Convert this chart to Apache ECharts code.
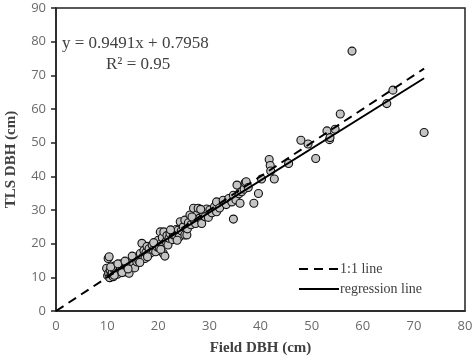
<!DOCTYPE html>
<html><head><meta charset="utf-8">
<script src="https://cdn.jsdelivr.net/npm/echarts@6/dist/echarts.min.js"></script>
<style>html,body{margin:0;padding:0;background:#fff}#c{width:474px;height:361px}</style>
</head><body><div id="c"></div>
<script>
var fieldDBH = [10.2,10.4,9.9,10.1,10.3,10.5,10.6,10.8,11.0,11.2,11.3,11.5,11.7,11.9,12.0,12.2,12.4,12.6,12.8,13.0,13.2,13.4,13.6,13.8,14.0,14.3,14.5,14.7,15.0,15.2,
15.4,15.6,15.8,16.0,16.2,16.5,16.8,17.0,17.2,17.4,17.6,17.8,18.0,18.2,18.5,18.8,19.0,19.3,19.5,19.8,
20.0,20.2,20.4,20.6,20.8,21.0,21.1,21.3,21.5,21.7,21.9,22.1,22.3,22.6,22.8,23.0,23.3,23.5,23.9,24.1,24.3,24.5,24.9,25.2,25.2,
25.6,25.7,25.9,26.2,26.4,26.9,27.0,27.3,27.6,27.8,28.1,28.5,28.8,29.2,29.5,29.8,30.1,
30.5,31.0,31.4,31.4,32.0,32.7,33.3,33.8,34.4,34.7,34.7,35.2,35.4,35.8,36.0,36.3,36.8,37.0,37.2,37.6,38.7,39.6,
40.2,41.7,41.9,42.0,42.7,45.5,47.9,49.3,
50.8,53.0,53.5,53.6,54.6,55.6,57.9,64.7,65.9,72.0,
10.7,11.4,12.1,12.9,13.5,14.1,14.9,16.4,17.9,19.1,20.5,22.4,23.7,26.6,28.3];
var tlsDBH = [15.6,16.1,12.7,10.5,11.2,9.9,12.0,10.8,11.5,10.2,12.6,13.4,11.0,12.2,10.9,13.0,11.8,12.5,14.0,12.1,13.3,11.6,12.8,14.2,13.1,11.2,14.6,13.4,15.2,14.0,
12.8,15.8,14.6,16.2,15.0,17.1,20.1,16.0,18.0,15.6,17.4,19.2,16.8,18.5,17.2,19.6,18.1,20.0,17.6,19.0,
21.0,18.8,23.5,20.2,21.8,17.1,23.5,16.3,20.6,22.4,19.6,21.6,23.0,24.0,21.2,22.6,22.6,24.2,24.0,22.0,26.5,23.8,25.0,22.6,27.0,
22.6,24.4,26.2,28.5,25.6,30.5,27.0,26.0,28.6,30.5,27.6,26.0,29.0,28.0,30.3,27.8,30.0,
29.2,31.0,29.5,32.4,30.6,32.9,31.6,33.4,32.4,34.4,27.3,33.0,37.4,34.8,32.0,35.4,36.2,38.1,38.4,36.7,32.0,34.9,
39.2,45.0,43.2,41.6,39.2,43.8,50.7,49.6,
45.3,53.5,50.9,51.5,54.0,58.5,77.2,61.6,65.6,53.0,
13.1,10.6,14.0,11.4,14.8,12.5,16.3,14.4,16.1,20.3,18.3,24.1,21.0,27.9,30.2];
var slope = 0.9491, intercept = 0.7958;
var regRange = [10, 72];
var oneToOneRange = [0, 72];

var pts = fieldDBH.map(function(x,i){return [x, tlsDBH[i]];});
var reg = regRange.map(function(x){return [x, slope*x+intercept];});
var one = oneToOneRange.map(function(x){return [x, x];});

var chart = echarts.init(document.getElementById('c'));
var serif = '"Liberation Serif", "DejaVu Serif", serif';
var sans = '"Open Sans", sans-serif';
chart.setOption({
  animation:false,
  grid:{left:56,right:9,top:8,bottom:50,show:true,borderColor:'#222',borderWidth:1.5,
    containLabel:false,outerBoundsMode:'none'},
  xAxis:{type:'value',min:0,max:80,interval:10,
    name:'Field DBH (cm)',nameLocation:'middle',nameGap:30,
    nameTextStyle:{fontFamily:serif,fontWeight:'bold',fontSize:15,color:'#404040'},
    axisLine:{lineStyle:{color:'#222',width:1.5}},axisTick:{show:false},
    axisLabel:{color:'#6a6a6a',fontFamily:sans,fontSize:13,margin:9},
    splitLine:{show:false}},
  yAxis:{type:'value',min:0,max:90,interval:10,
    name:'TLS DBH (cm)',nameLocation:'middle',nameGap:37,
    nameTextStyle:{fontFamily:serif,fontWeight:'bold',fontSize:15,color:'#404040'},
    axisLine:{show:true,lineStyle:{color:'#222',width:1.5}},
    axisTick:{show:true,length:5,lineStyle:{color:'#222',width:1.5}},
    axisLabel:{color:'#6a6a6a',fontFamily:sans,fontSize:13,margin:10},
    splitLine:{show:false}},
  legend:{orient:'vertical',left:293,top:257,itemWidth:40,itemHeight:12,itemGap:6,
    itemStyle:{opacity:0},
    data:[{name:'1:1 line'},{name:'regression line'}],
    textStyle:{fontFamily:serif,fontSize:14,color:'#404040',padding:[0,0,0,-4]}},
  series:[
    {type:'scatter',name:'data',data:pts,symbolSize:8,
      itemStyle:{color:'#c4c4c4',borderColor:'#111',borderWidth:1.1,opacity:1},z:3},
    {type:'line',name:'1:1 line',data:one,symbol:'none',color:'#000',
      lineStyle:{color:'#000',width:2,type:[9,6]},z:4},
    {type:'line',name:'regression line',data:reg,symbol:'none',color:'#000',
      lineStyle:{color:'#000',width:2},z:5}
  ],
  graphic:[
    {type:'text',left:62,top:35,style:{text:'y = 0.9491x + 0.7958',font:'17px '+serif,fill:'#404040'}},
    {type:'text',left:106,top:56,style:{text:'R² = 0.95',font:'17px '+serif,fill:'#404040'}}
  ]
});
</script></body></html>
